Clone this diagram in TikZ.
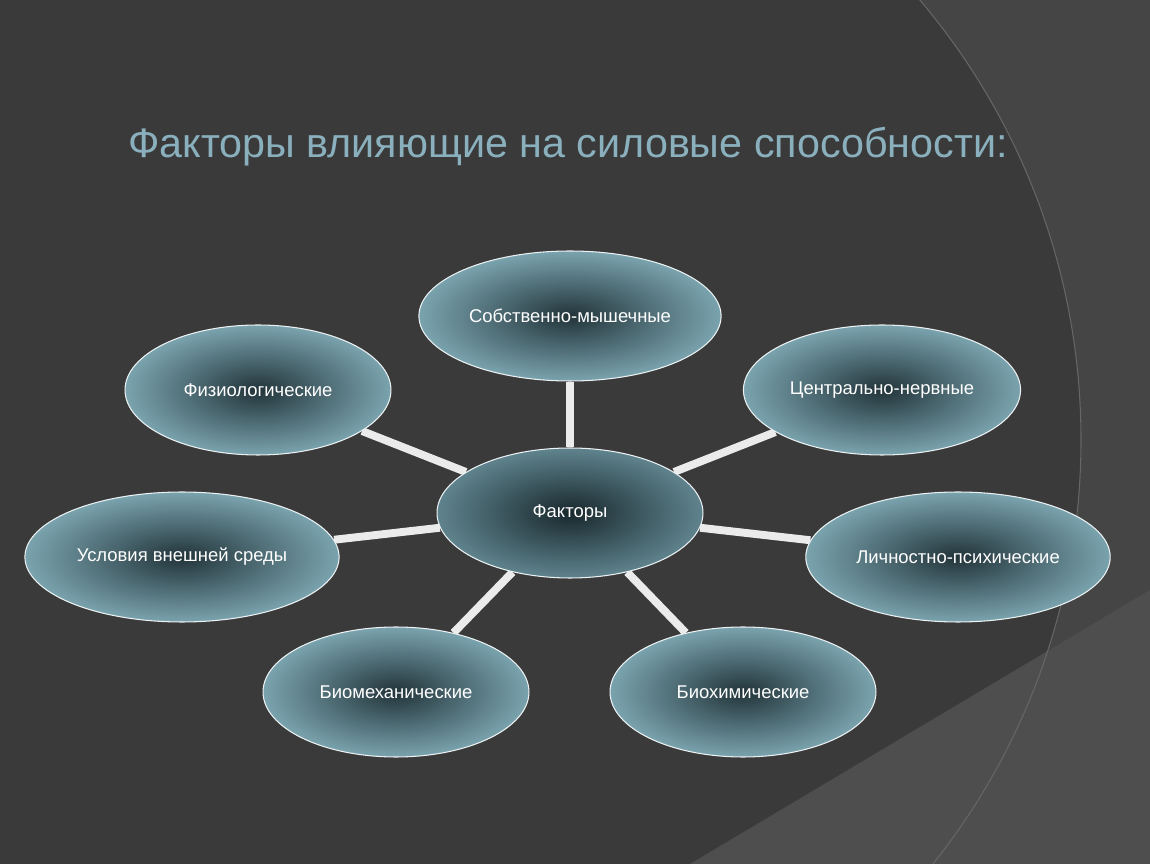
\documentclass[tikz,border=0pt]{standalone}
\usepackage{fontspec}
\setmainfont{Liberation Sans}
\usetikzlibrary{shapes.geometric}
\definecolor{bgdark}{HTML}{3A3A3A}
\definecolor{bglight}{HTML}{454545}
\definecolor{bgband}{HTML}{4E4E4E}
\definecolor{titleblue}{HTML}{8AB0BD}
\definecolor{tealout}{HTML}{7AA3AE}
\definecolor{tealin}{HTML}{22343A}
\definecolor{hubout}{HTML}{5F838D}
\definecolor{hubin}{HTML}{18282D}
\pgfdeclarelayer{back}
\pgfdeclarelayer{mid}
\pgfsetlayers{back,mid,main}
\begin{document}
\begin{tikzpicture}[x=0.02cm,y=-0.02cm,
    factor/.style={ellipse, draw=white!85!tealout, line width=0.6pt,
      minimum width=5.32cm, minimum height=2.6cm, inner color=tealin,
      outer color=tealout, text=white, font=\fontsize{10.5}{12}\selectfont},
    hub/.style={factor, inner color=hubin, outer color=hubout},
    link/.style={draw=white!92!black, line width=4.5pt}]
  \useasboundingbox (0,0) rectangle (1150,864);
  % background
  \begin{pgfonlayer}{back}
  \clip (0,0) rectangle (1150,864);
  \fill[bglight] (0,0) rectangle (1150,864);
  \fill[bgdark] (400,440) circle[radius=681];
  \fill[bgband] (690,864) -- (1150,590) -- (1150,864) -- cycle;
  \draw[black!60, line width=0.6pt] (400,440) circle[radius=681];
  \end{pgfonlayer}

  \node[text=titleblue, font=\fontsize{23.5}{28}\selectfont] (title) at (568,147) {Факторы влияющие на силовые способности:};

  % nodes
  \node[hub]    (hub)   at (570,513) {Факторы};
  \node[factor] (musc)  at (570,316) {Собственно-мышечные};
  \node[factor] (phys)  at (258,390) {Физиологические};
  \node[factor] (nerv)  at (882,390) {Центрально-нервные};
  \node[factor] (env)   at (182,557) {Условия внешней среды};
  \node[factor] (psych) at (958,557) {Личностно-психические};
  \node[factor] (mech)  at (396,692) {Биомеханические};
  \node[factor] (chem)  at (743,692) {Биохимические};

  % links
  \begin{pgfonlayer}{mid}
  \foreach \n in {musc,phys,nerv,env,psych,mech,chem}
    \draw[link] (hub) -- (\n);
  \end{pgfonlayer}
\end{tikzpicture}
\end{document}
